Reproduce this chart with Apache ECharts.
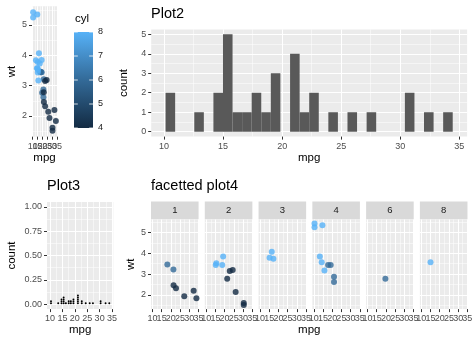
<!DOCTYPE html>
<html><head><meta charset="utf-8">
<script src="https://cdn.jsdelivr.net/npm/echarts@6/dist/echarts.min.js"></script>
<style>html,body{margin:0;padding:0;background:#fff}#c{width:474px;height:345px}</style>
</head><body><div id="c"></div>
<script>
// ---- data (mtcars) ----
const mpg  = [21.0,21.0,22.8,21.4,18.7,18.1,14.3,24.4,22.8,19.2,17.8,16.4,17.3,15.2,10.4,10.4,14.7,32.4,30.4,33.9,21.5,15.5,15.2,13.3,19.2,27.3,26.0,30.4,15.8,19.7,15.0,21.4];
const wt   = [2.620,2.875,2.320,3.215,3.440,3.460,3.570,3.190,3.150,3.440,3.440,4.070,3.730,3.780,5.250,5.424,5.345,2.200,1.615,1.835,2.465,3.520,3.435,3.840,3.845,1.935,2.140,1.513,3.170,2.770,3.570,2.780];
const cyl  = [6,6,4,6,8,6,8,4,4,6,6,8,8,8,8,8,8,4,4,4,4,8,8,8,8,4,4,4,8,6,8,4];
const carb = [4,4,1,1,2,1,4,2,2,4,4,3,3,3,4,4,4,1,2,1,1,2,2,4,2,1,2,2,4,6,8,2];
const carbLevels = [1,2,3,4,6,8];
// histogram (Plot2)
const histEdges  = [10.13,10.94,11.75,12.56,13.37,14.18,14.99,15.80,16.61,17.42,18.23,19.04,19.85,20.67,21.48,22.29,23.10,23.91,24.72,25.53,26.34,27.15,27.96,28.77,29.58,30.39,31.20,32.01,32.82,33.63,34.44];
const histCounts = [2,0,0,1,0,2,5,1,1,2,1,3,0,4,1,2,0,1,0,1,0,1,0,0,0,2,0,1,0,1];
// dotplot (Plot3)
const dotCenters = [10.4,13.3,14.65,15.5,16.4,17.55,18.4,19.45,21.25,22.8,24.4,26.0,27.3,30.4,32.4,33.9];
const dotCounts  = [2,1,3,4,1,2,2,3,5,2,1,1,1,2,1,1];
const dotBinwidth = 0.7833;
// ticks
const mpgTicks = [10,15,20,25,30,35];
const mpgMinor = [12.5,17.5,22.5,27.5,32.5];
const wtTicks = [2,3,4,5];
const wtMinor = [1.5,2.5,3.5,4.5,5.5];
const countTicks = [0,1,2,3,4,5];
const countMinor = [0.5,1.5,2.5,3.5,4.5];
const propTicks = [0,0.25,0.5,0.75,1];
const propMinor = [0.125,0.375,0.625,0.875];
const cylTicks = [4,5,6,7,8];
const cylColors = ['#132B43','#336A98','#56B1F7'];

// ---- layout ----
const FONT = 'Liberation Sans';
const TICKFS = 9;
const P1 = {left:32, top:6.2, width:25, height:130.5};
const P2 = {left:151.2, top:29.4, width:315.9, height:107.2};
const P3 = {left:47, top:201.9, width:66.3, height:107.2};
const P4 = {left0:151, top:219.5, width:47.58, step:53.78, height:89.6};
const STRIP = {top:201.6, height:17.6};
const CBAR = {x:74, y:32, w:19, h:96};
const rngMpgPt = [9.225,35.075], rngWt = [1.31745,5.61955];

const grids=[], xAxes=[], yAxes=[], series=[], graphics=[];
const labelStyle = {margin:5, fontSize:TICKFS, color:'#4D4D4D', fontFamily:FONT, hideOverlap:false, showMinLabel:true, showMaxLabel:true};
function addPanel(b, o){
  const gi = grids.length;
  grids.push({left:b.left, top:b.top, width:b.width, height:b.height, show:true,
    backgroundColor:'#EBEBEB', borderWidth:0, containLabel:false, outerBoundsMode:'none'});
  const base = {gridIndex:gi, type:'value', silent:true};
  // minor grid lines
  xAxes.push(Object.assign({}, base, {position:'top', min:o.x[0], max:o.x[1],
    axisLine:{show:false,onZero:false}, axisTick:{show:false, customValues:o.xm},
    axisLabel:{show:false, customValues:o.xm}, splitLine:{show:true, lineStyle:{color:'#FFFFFF', width:0.5}}}));
  // major grid lines, ticks, title
  const xi = xAxes.length;
  xAxes.push(Object.assign({}, base, {position:'bottom', min:o.x[0], max:o.x[1],
    axisLine:{show:false,onZero:false},
    axisTick:{show:true, length:3, lineStyle:{color:'#333333', width:1}, customValues:o.xt},
    axisLabel:{show:false, customValues:o.xt},
    splitLine:{show:true, lineStyle:{color:'#FFFFFF', width:1}},
    name:o.xname||'', nameLocation:'middle', nameGap:21,
    nameTextStyle:{fontSize:11.5, color:'#000', fontFamily:FONT, verticalAlign:'middle', padding:o.xnamePad||0}}));
  // one label per axis so that overlapping labels are all drawn (as in ggplot)
  o.xt.forEach(v=>{
    xAxes.push(Object.assign({}, base, {position:'bottom', min:o.x[0], max:o.x[1],
      axisLine:{show:false,onZero:false}, axisTick:{show:false, customValues:[v]},
      axisLabel:Object.assign({show:true, customValues:[v]}, labelStyle),
      splitLine:{show:false}}));
  });
  yAxes.push(Object.assign({}, base, {position:'right', min:o.y[0], max:o.y[1],
    axisLine:{show:false,onZero:false}, axisTick:{show:false, customValues:o.ym},
    axisLabel:{show:false, customValues:o.ym}, splitLine:{show:true, lineStyle:{color:'#FFFFFF', width:0.5}}}));
  const yi = yAxes.length;
  yAxes.push(Object.assign({}, base, {position:'left', min:o.y[0], max:o.y[1],
    axisLine:{show:false,onZero:false},
    axisTick:{show:o.ylab!==false, length:3, lineStyle:{color:'#333333', width:1}, customValues:o.yt},
    axisLabel:Object.assign({show:o.ylab!==false, customValues:o.yt, formatter:o.yfmt}, labelStyle),
    splitLine:{show:true, lineStyle:{color:'#FFFFFF', width:1}},
    name:o.yname||'', nameLocation:'middle', nameGap:o.ygap||20,
    nameTextStyle:{fontSize:11.5, color:'#000', fontFamily:FONT, verticalAlign:'middle'}}));
  return {xi, yi};
}

const pts = mpg.map((m,i)=>[m, wt[i], cyl[i]]);
const colorSeries = [];

// Plot1
const a1 = addPanel(P1, {x:rngMpgPt, y:rngWt, xt:mpgTicks, xm:mpgMinor, yt:wtTicks, ym:wtMinor, xname:'mpg', yname:'wt', ygap:20});
colorSeries.push(series.length);
series.push({type:'scatter', xAxisIndex:a1.xi, yAxisIndex:a1.yi, data:pts, symbolSize:6, symbol:'circle'});

// Plot2 histogram
const a2 = addPanel(P2, {x:[8.913,35.657], y:[-0.25,5.25], xt:mpgTicks, xm:mpgMinor, yt:countTicks, ym:countMinor, xname:'mpg', yname:'count', ygap:20});
const histData = [];
histCounts.forEach((c,i)=>{ if(c>0) histData.push([histEdges[i], histEdges[i+1], c]); });
series.push({type:'custom', xAxisIndex:a2.xi, yAxisIndex:a2.yi, data:histData,
  renderItem:(p,api)=>{
    const t = api.coord([api.value(0), api.value(2)]);
    const b = api.coord([api.value(1), 0]);
    return {type:'rect', shape:{x:t[0], y:t[1], width:b[0]-t[0], height:b[1]-t[1]}, style:{fill:'#595959'}};
  }});

// Plot3 dotplot
const a3 = addPanel(P3, {x:[8.79,35.51], y:[-0.05,1.05], xt:mpgTicks, xm:mpgMinor, yt:propTicks, ym:propMinor, xname:'mpg', yname:'count', ygap:35, yfmt:v=>v.toFixed(2)});
series.push({type:'custom', xAxisIndex:a3.xi, yAxisIndex:a3.yi, data:dotCenters.map((c,i)=>[c, dotCounts[i]]),
  renderItem:(p,api)=>{
    const base = api.coord([api.value(0), 0]);
    const d = api.size([dotBinwidth, 0])[0];
    const ch = [];
    for(let k=0;k<api.value(1);k++) ch.push({type:'circle', shape:{cx:base[0], cy:base[1]-d*(k+0.5), r:d/2}, style:{fill:'#000'}});
    return {type:'group', children:ch};
  }});

// Plot4 facets
carbLevels.forEach((lv,i)=>{
  const left = P4.left0 + i*P4.step;
  const box = {left:left, top:P4.top, width:P4.width, height:P4.height};
  const totalCenter = (P4.left0 + P4.left0 + 5*P4.step + P4.width)/2;
  const isName = i===2;
  const pad = isName ? [0,0,0,2*(totalCenter-(left+P4.width/2))] : 0;
  const a = addPanel(box, {x:rngMpgPt, y:rngWt, xt:mpgTicks, xm:mpgMinor, yt:wtTicks, ym:wtMinor,
    xname:isName?'mpg':'', xnamePad:pad, yname:i===0?'wt':'', ygap:20, ylab:i===0});
  colorSeries.push(series.length);
  series.push({type:'scatter', xAxisIndex:a.xi, yAxisIndex:a.yi, symbolSize:6, symbol:'circle',
    data:pts.filter((d,j)=>carb[j]===lv)});
  graphics.push({type:'rect', silent:true, shape:{x:left, y:STRIP.top, width:P4.width, height:STRIP.height}, style:{fill:'#D9D9D9'}});
  graphics.push({type:'text', silent:true, style:{text:String(lv), x:left+P4.width/2, y:STRIP.top+STRIP.height/2,
    align:'center', verticalAlign:'middle', fontSize:9.5, fontFamily:FONT, fill:'#1A1A1A'}});
});

// colour bar legend
graphics.push({type:'rect', silent:true, shape:{x:CBAR.x, y:CBAR.y, width:CBAR.w, height:CBAR.h},
  style:{fill:new echarts.graphic.LinearGradient(0,0,0,1,[{offset:0,color:cylColors[2]},{offset:0.5,color:cylColors[1]},{offset:1,color:cylColors[0]}])}});
cylTicks.forEach(v=>{
  const y = CBAR.y + (8-v)/4*CBAR.h;
  graphics.push({type:'line', silent:true, shape:{x1:CBAR.x, y1:y, x2:CBAR.x+CBAR.w/5, y2:y}, style:{stroke:'#FFFFFF', lineWidth:0.8}});
  graphics.push({type:'line', silent:true, shape:{x1:CBAR.x+CBAR.w*4/5, y1:y, x2:CBAR.x+CBAR.w, y2:y}, style:{stroke:'#FFFFFF', lineWidth:0.8}});
  graphics.push({type:'text', silent:true, style:{text:String(v), x:CBAR.x+CBAR.w+5, y:y, align:'left', verticalAlign:'middle',
    fontSize:9, fontFamily:FONT, fill:'#1A1A1A'}});
});

const tStyle = {fontSize:14.5, fontWeight:'normal', color:'#000', fontFamily:FONT};
const option = {
  animation:false,
  backgroundColor:'#FFFFFF',
  title:[
    {text:'Plot2', left:151, top:6, padding:0, textStyle:tStyle},
    {text:'Plot3', left:47, top:178.5, padding:0, textStyle:tStyle},
    {text:'facetted plot4', left:151, top:178.5, padding:0, textStyle:tStyle},
    {text:'cyl', left:75, top:12.5, padding:0, textStyle:{fontSize:11.5, fontWeight:'normal', color:'#000', fontFamily:FONT}}
  ],
  grid:grids, xAxis:xAxes, yAxis:yAxes,
  visualMap:{type:'continuous', show:false, min:4, max:8, dimension:2, seriesIndex:colorSeries, inRange:{color:cylColors}},
  series:series,
  graphic:graphics
};
const chart = echarts.init(document.getElementById('c'), null, {renderer:'canvas', width:474, height:345});
chart.setOption(option);
</script>
</body></html>
